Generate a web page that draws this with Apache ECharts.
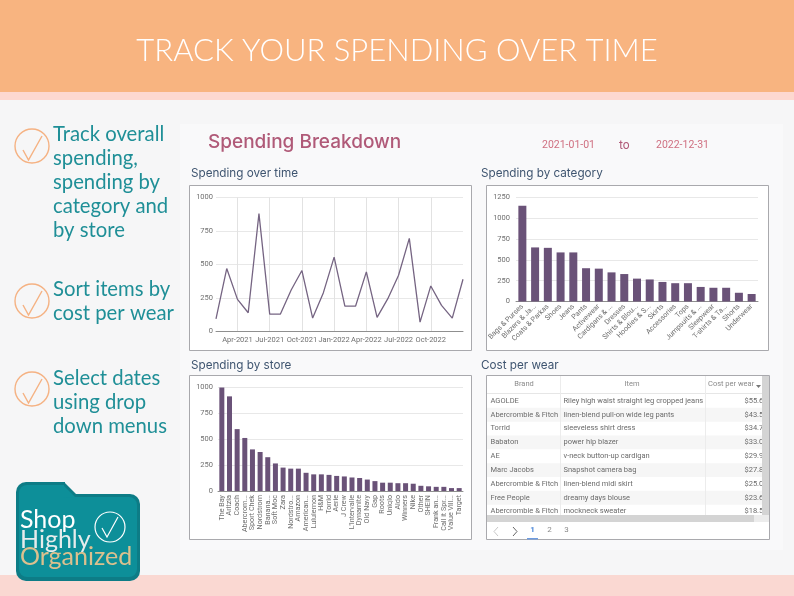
<!DOCTYPE html>
<html>
<head>
<meta charset="utf-8">
<style>html,body{margin:0;padding:0;background:#f6f6f7}#main{width:794px;height:596px}</style>
<script src="https://cdn.jsdelivr.net/npm/echarts@6/dist/echarts.min.js"></script>
</head>
<body>
<div id="main"></div>
<script>
var monthLabels = ['Feb-2021','Mar-2021','Apr-2021','May-2021','Jun-2021','Jul-2021','Aug-2021','Sep-2021','Oct-2021','Nov-2021','Dec-2021','Jan-2022','Feb-2022','Mar-2022','Apr-2022','May-2022','Jun-2022','Jul-2022','Aug-2022','Sep-2022','Oct-2022','Nov-2022','Dec-2022','Jan-2023'];
var monthValues = [95,470,240,140,880,130,130,310,455,100,290,555,190,190,445,105,245,420,695,70,340,195,100,390];

var categoryNames = ['Bags & Purses','Blazers & Ja...','Coats & Parkas','Shoes','Jeans','Pants','Activewear','Cardigans & ...','Dresses','Shirts & Blou...','Hoodies & S...','Skirts','Accessories','Tops','Jumpsuits & ...','Sleepwear','T-shirts & Ta...','Shorts','Underwear'];
var categoryValues = [1150,650,645,590,590,400,395,350,330,275,265,235,220,220,175,165,165,105,90];

var storeNames = ['The Bay','Aritzia','Coach','Abercrom...','Sport Chek','Nordstrom','Banana...','Soft Moc','Zara','Nordstro...','Amazon','American...','Lululemon','H&M','Torrid','Aerie','J Crew',"L'Intervalle",'Dynamite','Old Navy','Gap','Roots','Uniqlo','Aldo','Winners','Nike','Other','SHEIN','Frank an...','Call it Spr...','Value Vill...','Target'];
var storeValues = [995,910,595,510,400,375,325,265,225,215,215,175,160,160,155,145,140,130,125,110,95,80,80,75,75,70,50,45,40,40,28,28];

var tableBrands = ['AGOLDE','Abercrombie & Fitch','Torrid','Babaton','AE','Marc Jacobs','Abercrombie & Fitch','Free People','Abercrombie & Fitch'];
var tableItems = ['Riley high waist straight leg cropped jeans','linen-blend pull-on wide leg pants','sleeveless shirt dress','power hip blazer','v-neck button-up cardigan','Snapshot camera bag','linen-blend midi skirt','dreamy days blouse','mockneck sweater'];
var tableCosts = ['$55.60','$43.50','$34.70','$33.00','$29.90','$27.80','$25.00','$23.60','$18.50'];

var bullets = [
    {y: 146, lines: ['Track overall','spending,','spending by','category and','by store'], top: 134},
    {y: 301, lines: ['Sort items by','cost per wear'], top: 289},
    {y: 389, lines: ['Select dates','using drop','down menus'], top: 378}
];

var purple = '#6a5278';
var axisText = '#6f6f6f';
var uiFont = 'Roboto, Arial';
var headFont = 'Lato';
var titleFont = 'Inter';

function text(x, y, s, size, color, extra) {
    var st = {x: x, y: y, text: s, fontSize: size, fill: color, fontFamily: uiFont, verticalAlign: 'middle', align: 'left'};
    for (var k in extra) st[k] = extra[k];
    return {type: 'text', z: 20, silent: true, style: st};
}
function rect(x, y, w, h, fill, stroke, z) {
    return {type: 'rect', z: z || 1, silent: true, shape: {x: x, y: y, width: w, height: h},
        style: {fill: fill, stroke: stroke || null, lineWidth: stroke ? 1 : 0}};
}
function folder(x0, y0, x1, y1, tabX, tabY, r, fill, z) {
    return [
        {type: 'rect', z: z, silent: true, shape: {x: x0, y: tabY, width: x1 - x0, height: y1 - tabY, r: r}, style: {fill: fill}},
        {type: 'rect', z: z, silent: true, shape: {x: x0, y: y0, width: tabX - x0, height: 2 * r + 12, r: [r, 0, 0, 0]}, style: {fill: fill}},
        {type: 'polygon', z: z, silent: true, shape: {points: [[tabX - 1, y0], [tabX + 11, tabY], [tabX - 1, tabY + 1]]}, style: {fill: fill}}
    ];
}

var g = [];
// page bands
g.push(rect(0, 0, 794, 92, '#f8b480'));
g.push(rect(0, 92, 794, 8, '#fdd8d0'));
g.push(rect(0, 575, 794, 21, '#fad8d2'));
g.push(rect(180, 124, 603, 426, '#f9f9fa'));
g.push(text(397, 51, 'TRACK YOUR SPENDING OVER TIME', 31, '#ffffff', {align: 'center', fontFamily: headFont, fontWeight: 300}));

// left column
bullets.forEach(function (b) {
    g.push({type: 'circle', z: 5, silent: true, shape: {cx: 32, cy: b.y, r: 17}, style: {fill: 'none', stroke: '#f5b283', lineWidth: 1.4}});
    g.push({type: 'polyline', z: 5, silent: true, shape: {points: [[23, b.y + 4], [28.5, b.y + 14], [42, b.y - 10]]}, style: {fill: 'none', stroke: '#f5b283', lineWidth: 1.4}});
    b.lines.forEach(function (l, i) {
        g.push(text(53, b.top + i * 24, l, 20.3, '#1f8f97', {fontFamily: headFont}));
    });
});

// logo
g = g.concat(folder(16, 482, 140, 581, 65, 494, 10, '#0d7c86', 5));
g = g.concat(folder(19, 485, 137, 577, 64, 497, 8, '#0d8f99', 6));
g.push({type: 'circle', z: 7, silent: true, shape: {cx: 110, cy: 527, r: 15}, style: {fill: 'none', stroke: '#ffffff', lineWidth: 1.2}});
g.push({type: 'polyline', z: 7, silent: true, shape: {points: [[102, 528], [107, 537], [118, 517]]}, style: {fill: 'none', stroke: '#ffffff', lineWidth: 1.2}});
g.push(text(20, 520, 'Shop', 25, '#ffffff', {fontFamily: headFont}));
g.push(text(20, 540, 'Highly', 25, '#e6ecec', {fontFamily: headFont}));
g.push(text(20, 557, 'Organized', 25, '#dcc08e', {fontFamily: headFont}));

// dashboard heading
g.push(text(208, 142, 'Spending Breakdown', 19, '#b05a78', {fontFamily: titleFont, fontWeight: 500}));
g.push(text(542, 145, '2021-01-01', 10.5, '#cf6f80'));
g.push(text(619, 146, 'to', 12, '#b05a78'));
g.push(text(656, 145, '2022-12-31', 10.5, '#cf6f80'));
g.push(text(191, 173, 'Spending over time', 11.7, '#3f5570', {fontFamily: titleFont}));
g.push(text(481, 173, 'Spending by category', 11.7, '#3f5570', {fontFamily: titleFont}));
g.push(text(191, 365, 'Spending by store', 11.7, '#3f5570', {fontFamily: titleFont}));
g.push(text(481, 365, 'Cost per wear', 11.7, '#3f5570', {fontFamily: titleFont}));

// chart frames
g.push(rect(189.5, 185.5, 282, 165, '#ffffff', '#a9a9ad'));
g.push(rect(486.5, 185.5, 282, 165, '#ffffff', '#a9a9ad'));
g.push(rect(189.5, 375.5, 282, 164, '#ffffff', '#a9a9ad'));
g.push(rect(486.5, 375.5, 283, 164, '#ffffff', '#a9a9ad', 10));

// table
var rowTop = 394, rowH = 13.83;
g.push(text(524, 384, 'Brand', 7.5, '#8a8a8a', {align: 'center'}));
g.push(text(632, 384, 'Item', 7.5, '#8a8a8a', {align: 'center'}));
g.push(text(708, 384, 'Cost per wear', 7.5, '#8a8a8a'));
g.push({type: 'polygon', z: 21, silent: true, shape: {points: [[756, 385], [761, 385], [758.5, 388]]}, style: {fill: '#777777'}});
g.push({type: 'line', z: 12, silent: true, shape: {x1: 487, y1: 393.5, x2: 762, y2: 393.5}, style: {stroke: '#e6e6e6', lineWidth: 1}});
tableBrands.forEach(function (b, i) {
    var y = rowTop + i * rowH;
    if (i % 2 === 1) g.push(rect(487, y, 275, rowH, '#f6f6f6', null, 11));
    g.push(text(490.5, y + rowH / 2, b, 7.5, '#6b6b6b'));
    g.push(text(563.5, y + rowH / 2, tableItems[i], 7.5, '#6b6b6b'));
    g.push(text(767.5, y + rowH / 2, tableCosts[i], 7.5, '#6b6b6b', {align: 'right'}));
});
[560.5, 705.5].forEach(function (x) {
    g.push({type: 'line', z: 12, silent: true, shape: {x1: x, y1: 376, x2: x, y2: 515}, style: {stroke: '#ececec', lineWidth: 1}});
});
// scrollbars sit above the clipped cost column
g.push({type: 'rect', z: 30, silent: true, shape: {x: 762, y: 376, width: 7, height: 145}, style: {fill: '#d4d4d4'}});
g.push({type: 'rect', z: 30, silent: true, shape: {x: 487, y: 515, width: 282, height: 7}, style: {fill: '#d4d4d4'}});
g.push({type: 'rect', z: 31, silent: true, shape: {x: 754, y: 515, width: 15, height: 7}, style: {fill: '#ececec'}});
// pager
g.push({type: 'polyline', z: 21, silent: true, shape: {points: [[498, 527], [494, 531.5], [498, 536]]}, style: {fill: 'none', stroke: '#c8c8c8', lineWidth: 1}});
g.push({type: 'polyline', z: 21, silent: true, shape: {points: [[513, 527], [517, 531.5], [513, 536]]}, style: {fill: 'none', stroke: '#666666', lineWidth: 1}});
g.push(text(532.5, 530, '1', 8, '#4a86d8', {align: 'center', fontWeight: 'bold'}));
g.push(text(549.5, 530, '2', 8, '#8a8a8a', {align: 'center'}));
g.push(text(566.5, 530, '3', 8, '#8a8a8a', {align: 'center'}));
g.push(rect(527, 538, 11, 1.5, '#6d9be0', null, 21));

function yAxis(idx, max, interval, margin) {
    return {gridIndex: idx, type: 'value', min: 0, max: max, interval: interval, z: 3,
        axisLine: {show: false}, axisTick: {show: false},
        axisLabel: {color: axisText, fontSize: 7.5, fontFamily: 'Roboto', margin: margin, formatter: function (v) { return String(v); }},
        splitLine: {lineStyle: {color: '#e8e8e8', width: 1}}};
}
function showEveryThird(i) {
    return i % 3 === 2 && i < monthLabels.length - 1;
}

var myChart = echarts.init(document.getElementById('main'), null, {renderer: 'canvas'});
myChart.setOption({
    animation: false,
    backgroundColor: '#f6f6f7',
    graphic: {elements: g},
    grid: [
        {left: 216, top: 197.5, width: 247, height: 134},
        {left: 516, top: 197.5, width: 242, height: 104},
        {left: 218, top: 387, width: 245, height: 104}
    ],
    xAxis: [
        {gridIndex: 0, type: 'category', data: monthLabels, boundaryGap: false, z: 3,
            axisLine: {lineStyle: {color: '#8f8f8f'}}, axisTick: {show: false},
            axisLabel: {color: axisText, fontSize: 7.5, fontFamily: 'Roboto', interval: function (i) { return showEveryThird(i); }, margin: 5, hideOverlap: false},
            splitLine: {show: true, interval: function (i) { return showEveryThird(i); }, lineStyle: {color: '#e2e2e2'}}},
        {gridIndex: 1, type: 'category', data: categoryNames, z: 3,
            axisLine: {lineStyle: {color: '#8f8f8f'}}, axisTick: {show: false},
            axisLabel: {color: axisText, fontSize: 7.2, fontFamily: 'Roboto', interval: 0, rotate: 45, margin: 4}},
        {gridIndex: 2, type: 'category', data: storeNames, z: 3,
            axisLine: {lineStyle: {color: '#8f8f8f'}}, axisTick: {show: false},
            axisLabel: {color: axisText, fontSize: 7.2, fontFamily: 'Roboto', interval: 0, rotate: 90, margin: 4}}
    ],
    yAxis: [yAxis(0, 1000, 250, 3), yAxis(1, 1250, 250, 6), yAxis(2, 1000, 250, 5)],
    series: [
        {type: 'line', xAxisIndex: 0, yAxisIndex: 0, z: 5, data: monthValues, symbol: 'none', lineStyle: {color: '#756482', width: 1.3}},
        {type: 'bar', xAxisIndex: 1, yAxisIndex: 1, z: 5, data: categoryValues, barWidth: 8, itemStyle: {color: purple}},
        {type: 'bar', xAxisIndex: 2, yAxisIndex: 2, z: 5, data: storeValues, barWidth: 5, itemStyle: {color: purple}}
    ]
});
</script>
</body>
</html>
